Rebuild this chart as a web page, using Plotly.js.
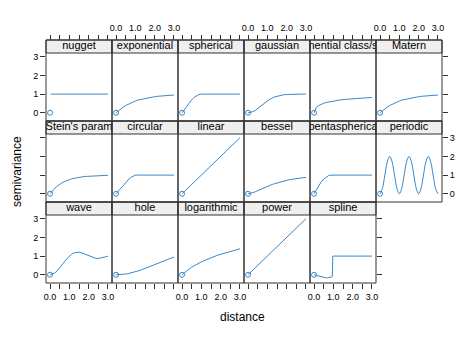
<!DOCTYPE html>
<html><head><meta charset="utf-8">
<script src="https://cdn.plot.ly/plotly-3.0.1.min.js"></script>
<style>html,body{margin:0;padding:0;background:#fff}#chart{width:474px;height:338px}</style>
</head><body><div id="chart"></div>
<script>
// ---- data ----
const dist = [0,0.125,0.25,0.375,0.5,0.625,0.75,0.875,1,1.125,1.25,1.375,1.5,1.625,1.75,1.875,2,2.125,2.25,2.375,2.5,2.625,2.75,2.875,3];
const originDist = [0];
const originValue = [0];
const nuggetDist = [0.03, 3];
const nugget = [1, 1];
const exponential = [0,.12,.22,.31,.39,.46,.53,.58,.63,.68,.71,.75,.78,.80,.83,.85,.86,.88,.89,.91,.92,.93,.94,.94,.95];
const spherical = [0,.19,.37,.54,.69,.82,.91,.98,1,1,1,1,1,1,1,1,1,1,1,1,1,1,1,1,1];
const gaussian = [0,.02,.06,.13,.22,.32,.43,.53,.63,.72,.79,.85,.89,.93,.95,.97,.98,.99,.99,1,1,1,1,1,1];
const expClass = [0,.30,.39,.46,.51,.55,.58,.61,.63,.65,.67,.69,.71,.72,.73,.75,.76,.77,.78,.79,.79,.80,.81,.82,.82];
const matern = [0,.12,.22,.31,.39,.46,.53,.58,.63,.68,.71,.75,.78,.80,.83,.85,.86,.88,.89,.91,.92,.93,.94,.94,.95];
const stein = [0,.16,.30,.41,.51,.59,.65,.71,.76,.80,.83,.86,.88,.90,.92,.93,.94,.95,.96,.97,.97,.98,.98,.98,.99];
const circular = [0,.16,.32,.47,.61,.74,.86,.95,1,1,1,1,1,1,1,1,1,1,1,1,1,1,1,1,1];
const linear = [0,.125,.25,.375,.5,.625,.75,.875,1,1.125,1.25,1.375,1.5,1.625,1.75,1.875,2,2.125,2.25,2.375,2.5,2.625,2.75,2.875,3];
const bessel = [0,.02,.06,.11,.17,.23,.29,.35,.40,.45,.50,.54,.58,.62,.66,.69,.72,.75,.77,.79,.81,.83,.85,.87,.88];
const pentaspherical = [0,.23,.45,.64,.79,.90,.97,1,1,1,1,1,1,1,1,1,1,1,1,1,1,1,1,1,1];
const periodic = [0,.29,1,1.71,2,1.71,1,.29,0,.29,1,1.71,2,1.71,1,.29,0,.29,1,1.71,2,1.71,1,.29,0];
const wave = [0,.03,.10,.22,.36,.53,.70,.86,1,1.11,1.18,1.21,1.21,1.18,1.13,1.07,1,.94,.90,.88,.87,.89,.92,.96,1];
const hole = [0,.003,.01,.02,.04,.06,.09,.12,.16,.20,.24,.29,.34,.39,.44,.49,.55,.60,.65,.71,.76,.81,.86,.91,.95];
const logarithmic = [0,.12,.22,.32,.41,.49,.56,.63,.69,.75,.81,.87,.92,.97,1.01,1.06,1.10,1.14,1.18,1.22,1.25,1.29,1.32,1.36,1.39];
const power = [0,.125,.25,.375,.5,.625,.75,.875,1,1.125,1.25,1.375,1.5,1.625,1.75,1.875,2,2.125,2.25,2.375,2.5,2.625,2.75,2.875,3];
const splineDist = [0,0.1,0.2,0.3,0.4,0.5,0.6,0.7,0.8,0.9,0.95,0.97,2,3];
const spline = [0,-0.03,-0.07,-0.10,-0.13,-0.15,-0.16,-0.16,-0.15,-0.12,-0.09,1,1,1];
// strip labels as they are visible in the reference (long ones are clipped there)
const panelLabels = ['nugget','exponential','spherical','gaussian','nential class/s','Matern',
  "Stein's param",'circular','linear','bessel','pentaspherica','periodic',
  'wave','hole','logarithmic','power','spline'];
const xTickVals = [0,0.5,1,1.5,2,2.5,3];
const xTickText = ['0.0','','1.0','','2.0','','3.0'];
const yTickVals = [0,1,2,3];
const yTickText = ['0','1','2','3'];

// ---- build ----
const series = [
  [nuggetDist,nugget],[dist,exponential],[dist,spherical],[dist,gaussian],[dist,expClass],[dist,matern],
  [dist,stein],[dist,circular],[dist,linear],[dist,bessel],[dist,pentaspherical],[dist,periodic],
  [dist,wave],[dist,hole],[dist,logarithmic],[dist,power],[splineDist,spline]
];
const W=474,H=338;
const BLUE='#3a87c8', LINE='#333333', FONT='Liberation Sans, Arial, sans-serif';
const colLeft=[46,112,178,244,310,376], colW=66;
const stripTop=[40,121,202], stripH=13, plotH=68;
const xRange=[-0.21,3.21], yRange=[-0.44,3.2];
const traces=[], shapes=[];
const layout={width:W,height:H,margin:{l:0,r:0,t:0,b:0},paper_bgcolor:'#fff',plot_bgcolor:'rgba(0,0,0,0)',
  showlegend:false,font:{family:FONT,color:'#000'},hovermode:false};
const N=series.length;
series.forEach((s,i)=>{
  const r=Math.floor(i/6), c=i%6, n=i+1, sfx=(n===1?'':String(n));
  const xa='x'+sfx, ya='y'+sfx;
  const x0=colLeft[c], x1=x0+colW, st=stripTop[r], pt=st+stripH, pb=pt+plotH;
  traces.push({type:'scatter',mode:'lines',x:s[0],y:s[1],xaxis:xa,yaxis:ya,
    line:{color:BLUE,width:1,shape:(panelLabels[i]==='periodic'?'spline':'linear')},hoverinfo:'skip'});
  traces.push({type:'scatter',mode:'markers',x:originDist,y:originValue,xaxis:xa,yaxis:ya,
    marker:{symbol:'circle-open',size:5,color:BLUE,line:{width:1,color:BLUE}},hoverinfo:'skip',cliponaxis:false});
  const xTicksOn = (r===0||r===2);
  const xLabels = (r===0 && c%2===1) || (r===2 && c%2===0);
  const xa_cfg={domain:[x0/W,x1/W],range:xRange,side:(r===0?'top':'bottom'),
    ticks:xTicksOn?'outside':'',ticklen:5,tickwidth:1,tickcolor:LINE,tickvals:xTickVals,ticktext:xTickText,
    showticklabels:xLabels,showgrid:false,zeroline:false,showline:false,fixedrange:true,
    tickfont:{size:9,color:'#000',family:FONT}};
  if(r===0){xa_cfg.anchor='free';xa_cfg.position=1-st/H;} else {xa_cfg.anchor=ya;}
  layout['xaxis'+sfx]=xa_cfg;
  const yLeft=(c===0), yRight=(c===5)||(i===N-1);
  const yLabels=(yLeft && r!==1)||(yRight && r===1);
  layout['yaxis'+sfx]={domain:[1-pb/H,1-pt/H],range:yRange,anchor:xa,side:(yRight?'right':'left'),
    ticks:(yLeft||yRight)?'outside':'',ticklen:5,tickwidth:1,tickcolor:LINE,tickvals:yTickVals,ticktext:yTickText,
    showticklabels:yLabels,showgrid:false,zeroline:false,showline:false,fixedrange:true,
    tickfont:{size:9,color:'#000',family:FONT}};
  // strip subplot (label clipped to the strip)
  const m=N+n, ms=String(m);
  layout['xaxis'+ms]={domain:[x0/W,x1/W],range:[0,1],visible:false,anchor:'y'+ms,fixedrange:true};
  layout['yaxis'+ms]={domain:[1-pt/H,1-st/H],range:[0,1],visible:false,anchor:'x'+ms,fixedrange:true};
  traces.push({type:'scatter',mode:'text',x:[0.5],y:[0.5],text:[panelLabels[i]],textposition:'middle center',
    textfont:{size:11,color:'#000',family:FONT},xaxis:'x'+ms,yaxis:'y'+ms,cliponaxis:true,hoverinfo:'skip'});
  shapes.push({type:'rect',xref:'paper',yref:'paper',x0:x0/W,x1:x1/W,y0:1-pt/H,y1:1-st/H,
    fillcolor:'#efefef',line:{color:LINE,width:1},layer:'below'});
  shapes.push({type:'rect',xref:'paper',yref:'paper',x0:x0/W,x1:x1/W,y0:1-pb/H,y1:1-st/H,
    fillcolor:'rgba(0,0,0,0)',line:{color:LINE,width:1},layer:'above'});
});
layout.shapes=shapes;
layout.annotations=[
  {text:'distance',xref:'paper',yref:'paper',x:243/W,y:1-317/H,xanchor:'center',yanchor:'middle',showarrow:false,font:{size:12,color:'#000',family:FONT}},
  {text:'semivariance',xref:'paper',yref:'paper',x:17/W,y:1-172/H,xanchor:'center',yanchor:'middle',textangle:-90,showarrow:false,font:{size:12,color:'#000',family:FONT}}
];
Plotly.newPlot('chart',traces,layout,{displayModeBar:false,staticPlot:true});
</script></body></html>
